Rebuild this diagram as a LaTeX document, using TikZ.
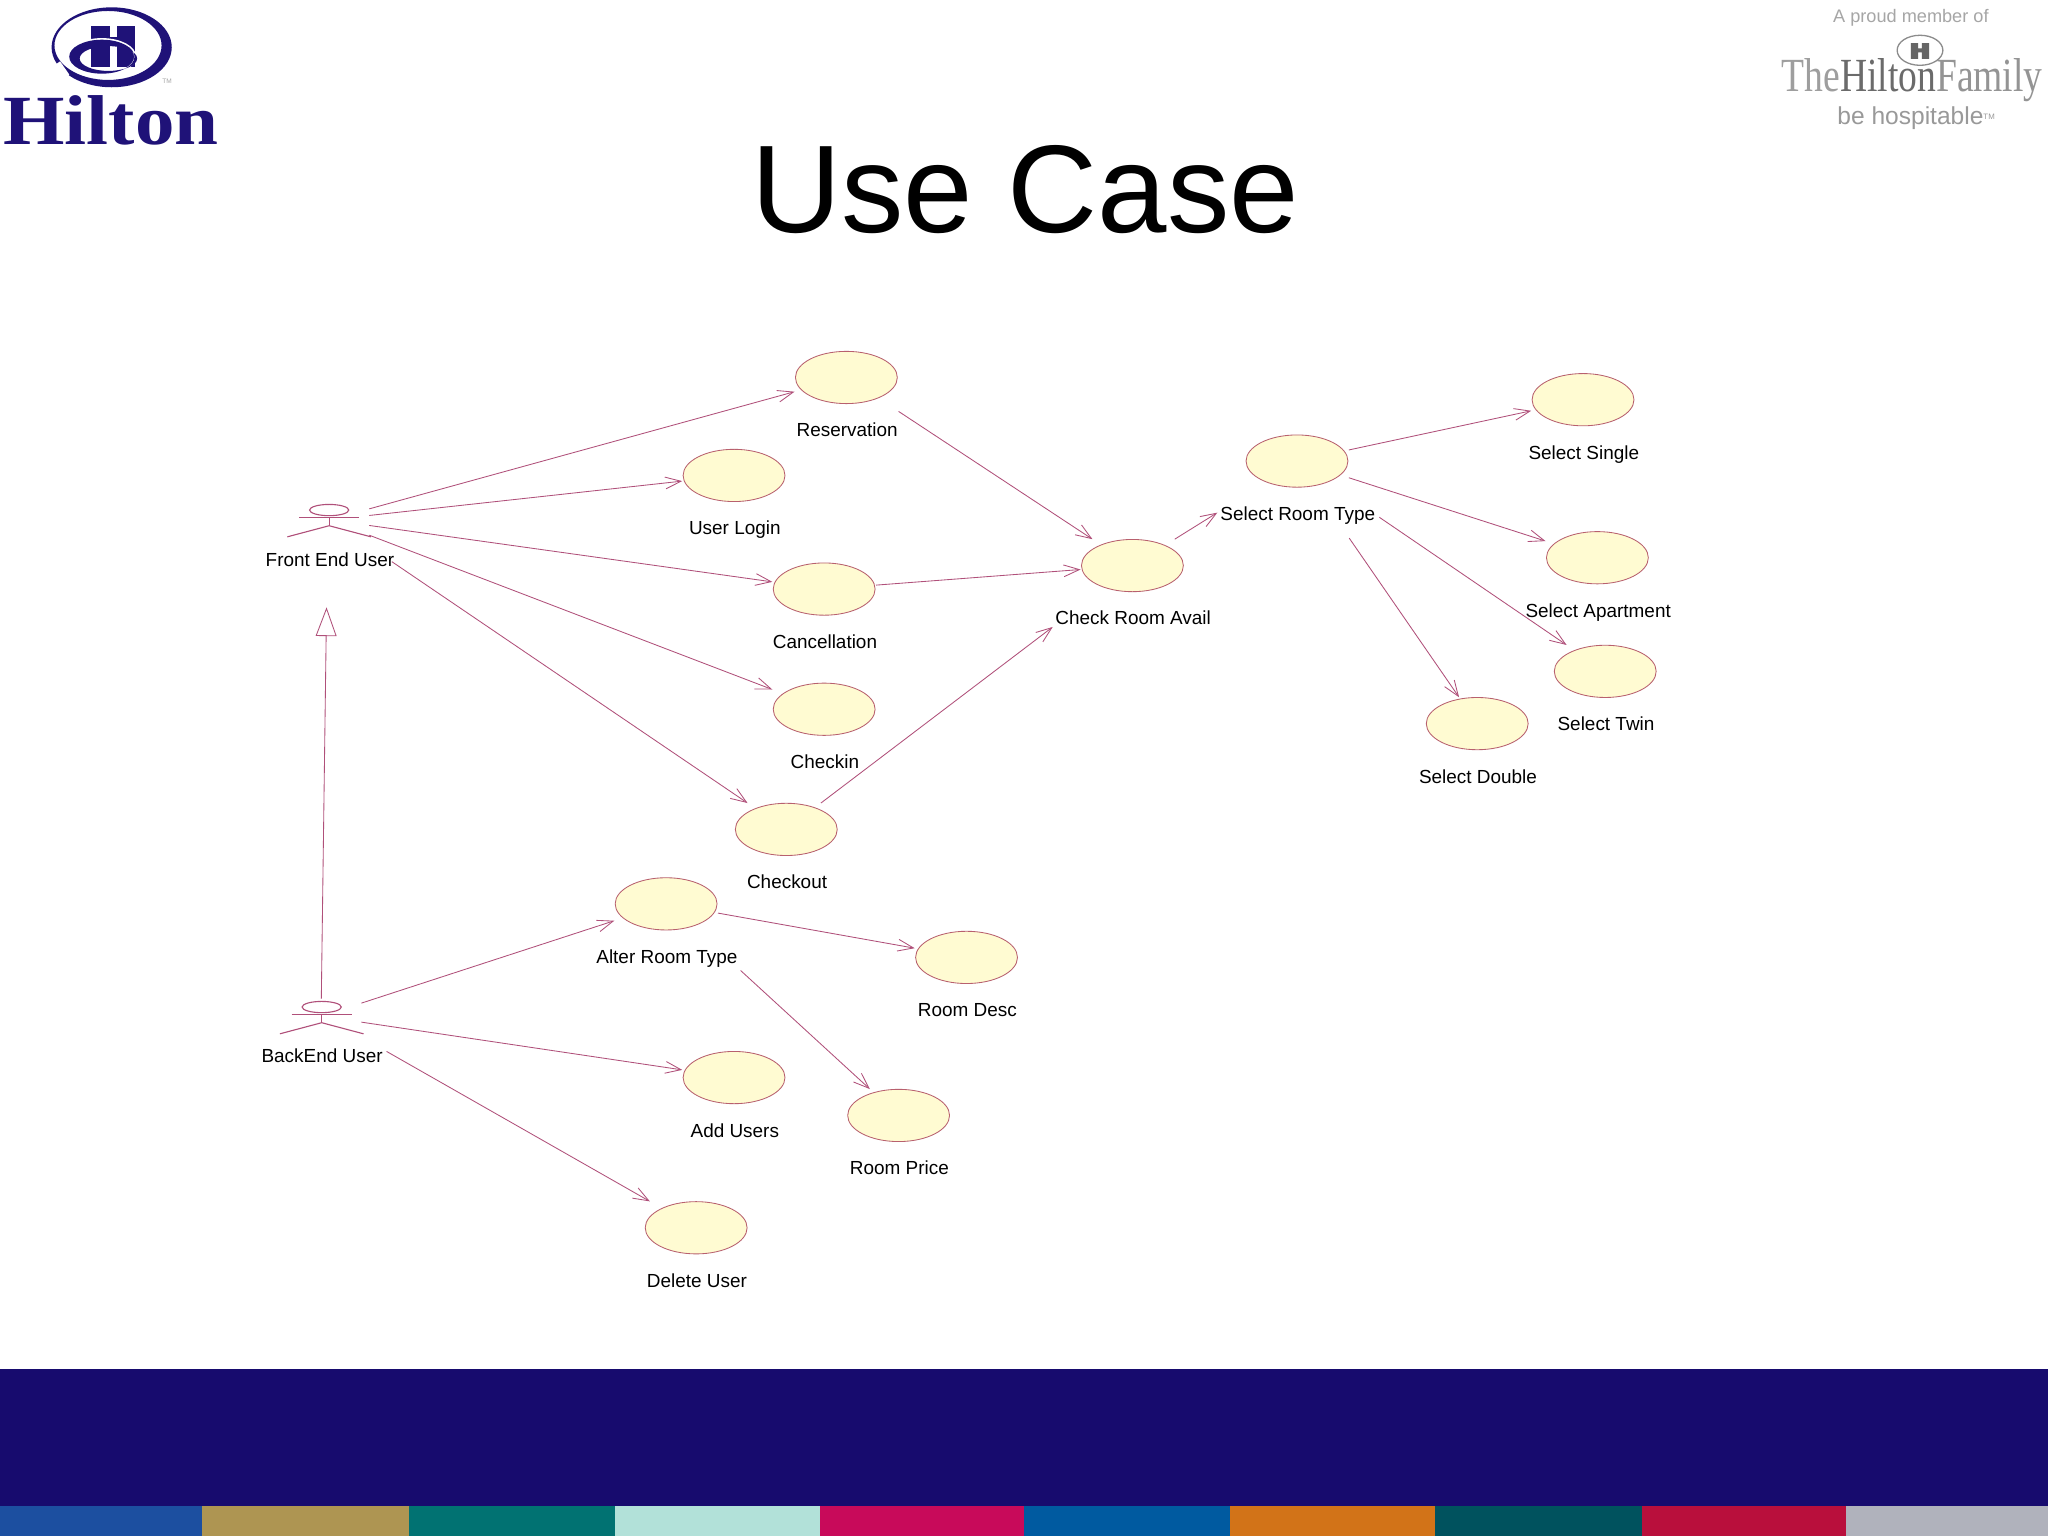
\documentclass[tikz,border=0pt]{standalone}
\usepackage{fontspec}
\setmainfont{Liberation Sans}
\newfontfamily\logoserif{Liberation Serif}
\usetikzlibrary{arrows.meta,shapes.geometric}
\definecolor{umlline}{HTML}{B0507A}
\definecolor{umlring}{HTML}{B8606E}
\definecolor{umlfill}{HTML}{FFFBD2}
\definecolor{navy}{HTML}{170B6E}
\definecolor{logoblue}{HTML}{1F1278}
\tikzset{
  conn/.style={draw=umlline,line width=0.65pt,-{Straight Barb[length=12pt,width=9pt,line width=0.65pt]}},
  gener/.style={draw=umlline,line width=0.65pt,-{Triangle[open,length=22pt,width=16pt,line width=0.65pt]}},
  ucshape/.style={ellipse,draw=umlring,fill=umlfill,line width=0.65pt,minimum width=78pt,minimum height=40pt,inner sep=0pt},
  ucbox/.style={rectangle,minimum width=79pt,minimum height=40pt,inner sep=0pt},
  actorbox/.style={rectangle,minimum width=61pt,minimum height=26pt,inner sep=0pt},
  lab/.style={font=\fontsize{14.5}{16}\selectfont,text=black,inner sep=0pt,text height=10.4pt,text depth=0pt},
  actorline/.style={draw=umlline,line width=0.85pt}
}
% name, x, y, label
\newcommand{\usecasenode}[4]{%
  \node[ucshape] (#1E) at (#2,#3) {};
  \node[ucbox] (#1) at (#2,#3) {};
  \node[lab] (#1L) at (#2+0.6,#3+40.3) {#4};
}
\newcommand{\actorfig}[2]{%
  \draw[actorline] (#1,#2) ellipse (15 and 4.3);
  \draw[actorline] (#1-23,#2+6) -- (#1+23,#2+6);
  \draw[actorline] (#1,#2+6) -- (#1,#2+12);
  \draw[actorline] (#1-32,#2+20.5) -- (#1,#2+12) -- (#1+32,#2+20.5);
}
\begin{document}
\begin{tikzpicture}[x=1pt,y=-1pt]
\useasboundingbox (0,0) rectangle (1568,1176);
\fill[white] (0,0) rectangle (1568,1176);

% footer
\fill[navy] (0,1048) rectangle (1568,1154);
\foreach \a/\b/\c in {0/155/1C4FA0,155/313/AE9552,313/471/017272,471/628/B2E1D9,628/784/C80A5A,784/942/005AA0,942/1099/D27318,1099/1257/00525E,1257/1413/B90F3C,1413/1568/B0B2BC}{
  \definecolor{stripecol}{HTML}{\c}
  \fill[stripecol] (\a,1153) rectangle (\b,1176);
}

% Hilton logo
\fill[logoblue,even odd rule] (85.5,36.2) ellipse (46 and 30.6) (82.7,34.8) ellipse (41 and 26.4);
\fill[white] (40,51) -- (46,47) -- (53,57) -- (49,63) -- cycle;
\fill[logoblue] (69.4,19.9) rectangle (84.2,51);
\fill[logoblue] (89.3,19.9) rectangle (103.4,51);
\fill[logoblue] (84,28) rectangle (90,34);
\draw[white,line width=1.5pt] (78,43.4) ellipse (25.5 and 13.5);
\fill[logoblue,even odd rule] (78,43.4) ellipse (25 and 13) (83,44.8) ellipse (22 and 9.5);
\node[inner sep=0pt,text=gray!70] (tm) at (128,62.5) {\fontsize{5}{6}\selectfont TM};
\node[inner sep=0pt,text=logoblue,anchor=base,xscale=1.12] (hiltonword) at (85,111) {\logoserif\bfseries\fontsize{54}{60}\selectfont Hilton};

% family logo
\node[inner sep=0pt,text=black!35] (proud) at (1463,13.5) {\fontsize{13.9}{15}\selectfont A proud member of};
\draw[black!45,line width=1pt] (1470,38.5) ellipse (17.5 and 11.5);
\fill[black!60] (1463,33) rectangle (1468.5,45) (1471.5,33) rectangle (1477,45) (1468,37) rectangle (1472,40);
\node[inner sep=0pt,anchor=base,xscale=0.79] (family) at (1464,70) {\logoserif\fontsize{36.4}{40}\selectfont\textcolor{black!38}{The}\textcolor{black!58}{Hilton}\textcolor{black!42}{Family}};
\node[inner sep=0pt,text=black!40] (hosp) at (1467,90.5) {\fontsize{18.8}{20}\selectfont be hospitable\raisebox{0.4ex}{\fontsize{6}{7}\selectfont TM}};

% title
\node[inner sep=0pt,text=black] (title) at (785,145) {\fontsize{95.5}{100}\selectfont Use Case};

% use cases
\usecasenode{res}{648}{289}{Reservation}
\usecasenode{login}{562}{364}{User Login}
\usecasenode{canc}{631}{451}{Cancellation}
\usecasenode{chin}{631}{543}{Checkin}
\usecasenode{chout}{602}{635}{Checkout}
\usecasenode{avail}{867}{433}{Check Room Avail}
\usecasenode{srt}{993}{353}{Select Room Type}
\usecasenode{single}{1212}{306}{Select Single}
\usecasenode{apart}{1223}{427}{Select Apartment}
\usecasenode{twin}{1229}{514}{Select Twin}
\usecasenode{double}{1131}{554}{Select Double}
\usecasenode{alter}{510}{692}{Alter Room Type}
\usecasenode{desc}{740}{733}{Room Desc}
\usecasenode{price}{688}{854}{Room Price}
\usecasenode{add}{562}{825}{Add Users}
\usecasenode{del}{533}{940}{Delete User}

% actors
\actorfig{252}{390.5}
\actorfig{246.3}{771}
\node[actorbox] (front) at (252,398) {};
\node[actorbox] (back) at (246,778) {};
\node[lab] (frontL) at (252.6,428.3) {Front End User};
\node[lab] (backL) at (246.6,808.3) {BackEnd User};

% free ends of connectors, where they stop at a label
\coordinate (frontOut) at (300,430);
\coordinate (backOut) at (296,805);
\coordinate (resOut) at (688,315);
\coordinate (availIn) at (806,480);
\coordinate (srtIn) at (932,392.5);
\coordinate (srtOutA) at (1056,396);
\coordinate (srtOutB) at (1033,412);
\coordinate (alterOut) at (567,743);
\coordinate (frontIn) at (250,465);

% connectors
\draw[conn] (front) -- (res);
\draw[conn] (front) -- (login);
\draw[conn] (front) -- (canc);
\draw[conn] (front) -- (chin);
\draw[conn] (frontOut) -- (chout);
\draw[conn] (resOut) -- (avail);
\draw[conn] (canc) -- (avail);
\draw[conn] (chout) -- (availIn);
\draw[conn] (avail) -- (srtIn);
\draw[conn] (srt) -- (single);
\draw[conn] (srt) -- (apart);
\draw[conn] (srtOutA) -- (twin);
\draw[conn] (srtOutB) -- (double);
\draw[conn] (back) -- (alter);
\draw[conn] (back) -- (add);
\draw[conn] (backOut) -- (del);
\draw[conn] (alter) -- (desc);
\draw[conn] (alterOut) -- (price);
\draw[gener] (back.north) -- (frontIn);
\end{tikzpicture}
\end{document}
